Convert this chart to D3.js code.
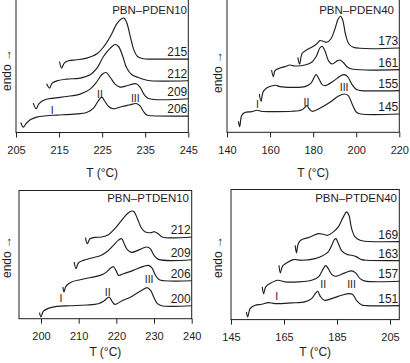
<!DOCTYPE html>
<html>
<head>
<meta charset="utf-8">
<script src="https://d3js.org/d3.v7.min.js"></script>
<style>
    body { margin: 0; background: #fff; }
    svg { display: block; font-family: "Liberation Sans", Arial, sans-serif; }
    .tick line { stroke: #222; }
</style>
</head>
<body>
<svg width="410" height="363"></svg>
<script>
    // DSC traces, [T (°C), heat flow (a.u., endo up)]
    // PBN-PDEN10
    const pden10_206 = [[206.1,10.0],[206.7,5.4],[207.3,8.7],[208.3,12.7],[209.8,15.4],[212.1,16.7],[214.5,17.4],[218.3,18.4],[221.4,20.0],[223.0,24.4],[224.1,31.7],[224.9,35.4],[225.5,32.0],[226.5,26.0],[227.6,23.7],[229.6,26.0],[231.5,27.7],[232.9,29.0],[233.8,26.7],[234.6,21.0],[235.4,17.4],[236.6,16.7],[245,16.4]];
    const pden10_209 = [[209.0,29.4],[209.7,23.7],[210.3,28.7],[211.7,32.7],[213.7,34.4],[216.8,36.0],[219.9,38.4],[222.2,43.4],[223.8,51.0],[224.9,57.7],[225.9,60.0],[226.9,55.0],[228.0,48.4],[229.2,45.4],[230.7,46.7],[232.1,48.4],[232.9,48.7],[233.8,45.4],[234.8,37.7],[235.8,34.0],[245,33.7]];
    const pden10_212 = [[212.1,48.7],[212.8,44.4],[213.4,49.4],[214.8,52.0],[216.8,53.4],[219.9,54.4],[222.2,57.7],[223.8,64.4],[225.3,76.0],[226.9,84.4],[228.0,88.0],[228.8,86.0],[229.8,76.0],[230.7,64.4],[231.9,57.7],[233.4,55.0],[235.0,52.7],[236.2,51.7],[245,51.7]];
    const pden10_215 = [[215.1,71.0],[215.6,64.4],[216.2,69.4],[217.2,71.7],[219.1,72.7],[221.4,74.4],[223.8,78.7],[225.3,85.4],[226.9,96.0],[228.4,108.7],[229.5,113.7],[230.1,114.4],[230.7,110.0],[231.5,96.7],[232.3,83.4],[233.2,76.0],[234.6,73.7],[236.6,73.4],[245,73.4]];
    // PBN-PDEN40
    const pden40_145 = [[145.3,11],[145.9,5.7],[146.8,16.7],[148.3,19.7],[151.4,20.7],[154.1,22],[155.8,21],[160.7,20.7],[170.0,21],[174.6,22.3],[176.2,25],[177.1,26.7],[178.0,24],[179.6,21],[183.1,24],[187.8,30],[191.6,36],[194.4,38.3],[196.3,36.7],[198.1,28.3],[200.1,20],[202.1,18.3],[220,18.3]];
    const pden40_155 = [[155.0,38.3],[155.8,31],[156.7,40],[158.4,44.3],[160.7,46.3],[162.6,47],[164.6,45.7],[170.0,45],[176.2,45.7],[178.9,49],[180.5,55],[181.4,57.7],[182.7,53.3],[184.2,47.7],[185.7,46.7],[189.3,51],[192.4,56],[194.4,57.7],[196.0,55.7],[198.1,47.7],[200.1,42.7],[202.4,41.7],[220,41.7]];
    const pden40_161 = [[160.7,62.3],[161.5,55.7],[162.3,61.7],[164.6,64.3],[166.9,65.7],[169.2,67.3],[171.5,66.3],[176.2,67.3],[179.3,70],[181.6,76.7],[183.1,84.3],[184.2,86],[185.4,81.7],[187.3,71],[188.8,68.3],[191.3,71.7],[192.4,72.3],[193.9,70],[196.0,65],[198.6,63],[220,62.7]];
    const pden40_173 = [[172.9,75],[173.7,68.3],[174.9,79],[176.9,82.3],[179.3,85],[181.6,88.3],[183.1,91.7],[184.7,91],[186.2,90],[188.2,93.3],[190.1,103.3],[191.6,113.3],[192.7,116],[193.8,111.7],[195.0,98.3],[196.6,88.3],[198.6,85],[220,84.3]];
    // PBN-PTDEN10
    const ptden10_200 = [[199.6,6],[200.0,1.7],[200.6,7.3],[201.9,10.3],[204.2,12.3],[207.7,13],[212.1,13.7],[215.2,15],[216.7,17.7],[217.6,20.7],[218.1,21.7],[218.8,17.7],[219.6,14.3],[221.4,17.7],[224.1,22.3],[226.7,28.3],[228.2,31],[229.1,28.3],[230.0,21],[230.9,15],[232.0,13],[240,13]];
    const ptden10_206 = [[205.8,31.7],[206.1,26.7],[206.6,32.3],[208.1,36.7],[210.4,39],[213.0,41],[215.7,43.3],[217.3,46.3],[218.5,50.7],[219.2,52],[219.9,48.3],[220.6,43.3],[221.9,45],[224.5,48.3],[227.2,52.3],[228.5,53.3],[229.4,51],[230.4,43.3],[231.4,39],[232.7,38],[240,38]];
    const ptden10_209 = [[208.8,56.7],[209.3,50],[209.9,55.7],[211.2,58.3],[213.5,60.7],[215.7,63],[217.4,66.7],[219.2,73.3],[220.5,78.3],[221.4,80],[222.0,75.7],[222.9,69],[224.0,66.3],[226.3,69.3],[228.1,71.7],[229.0,70],[230.0,63.3],[231.2,59.3],[240,59]];
    const ptden10_212 = [[211.8,81],[212.3,75],[213.0,80],[214.3,81.3],[216.1,81.7],[217.9,84],[219.6,90],[221.4,98.3],[222.9,105],[224.1,107.7],[224.7,107],[225.6,100],[226.6,91],[227.7,86.7],[229.1,86],[230.1,87],[231.1,85],[232.2,81.7],[240,81.7]];
    // PBN-PTDEN40
    const ptden40_151 = [[150.8,7.7],[151.3,2.7],[152.2,11],[154.1,14.3],[156.6,15.3],[159.1,17],[161.6,16],[167.9,16.7],[172.9,17.7],[175.4,21],[177.0,26.7],[177.7,28.3],[178.7,23.3],[180.2,19.3],[183.0,21],[186.8,24.3],[189.5,26],[190.8,25.3],[192.5,18.7],[194.3,14.7],[196.1,14],[208.5,14]];
    const ptden40_157 = [[156.8,32.7],[157.3,26],[158.1,32.7],[159.7,36],[162.6,39.3],[165.4,37.7],[170.4,37.7],[175.4,39.3],[178.0,42.7],[179.5,49.3],[180.7,54],[181.7,51],[183.0,45.3],[184.5,43.3],[188.0,46.7],[190.5,48.7],[192.0,46.7],[193.7,41],[195.3,38.7],[208.5,38.3]];
    const ptden40_163 = [[163.1,54.3],[163.6,46.7],[164.4,53.3],[166.0,56.7],[168.5,60],[171.7,59.3],[176.7,61],[179.2,63.3],[181.7,67.7],[183.0,74.3],[184.0,80],[184.6,81],[185.5,76],[186.8,68.7],[188.6,65.3],[190.5,64.3],[192.4,62.7],[194.3,60],[196.2,59.3],[208.5,59]];
    const ptden40_169 = [[169.2,74.3],[169.7,66.7],[170.4,76],[171.7,80],[174.2,82],[178.0,86],[179.8,85.3],[181.5,84.3],[183.6,87.7],[185.5,92.7],[187.4,102.7],[188.6,107.7],[189.5,104.3],[190.5,91],[191.8,82.7],[193.7,79.3],[195.6,78.3],[208.5,78]];

    // annealing temperatures (curve labels)
    const pden10_labels = ["206", "209", "212", "215"];
    const pden40_labels = ["145", "155", "161", "173"];
    const ptden10_labels = ["200", "206", "209", "212"];
    const ptden40_labels = ["151", "157", "163", "169"];

    // melting peak markers [text, T, height]
    const pden10_marks = [["I", 213.4, 22.7], ["II", 224.5, 39], ["III", 232.7, 34.5]];
    const pden40_marks = [["I", 154.1, 28], ["II", 176.9, 30], ["III", 194.4, 45]];
    const ptden10_marks = [["I", 205.3, 21], ["II", 217.7, 26.7], ["III", 228.7, 39.3]];
    const ptden40_marks = [["I", 162.2, 23.3], ["II", 179.8, 35.3], ["III", 190.5, 35.3]];

    // tick values
    const pden10_ticks = [205, 215, 225, 235, 245];
    const pden40_ticks = [140, 160, 180, 200, 220];
    const ptden10_ticks = [200, 210, 220, 230, 240];
    const ptden40_ticks = [145, 165, 185, 205];

    // panel layout
    const panels = [
        {title: "PBN\u2013PDEN10", left: 16, right: 188.3, top: -1, bottom: 132.5, x0: 205, x1: 245,
            ticks: pden10_ticks, curves: [pden10_206, pden10_209, pden10_212, pden10_215], labels: pden10_labels, marks: pden10_marks,
            endoX: 7, endoY: 70, titleX: 187, titleY: 14, axTitleY: 177},
        {title: "PBN\u2013PDEN40", left: 227, right: 399.3, top: -1, bottom: 132.3, x0: 140, x1: 220,
            ticks: pden40_ticks, curves: [pden40_145, pden40_155, pden40_161, pden40_173], labels: pden40_labels, marks: pden40_marks,
            endoX: 218, endoY: 72, titleX: 394, titleY: 14, axTitleY: 177},
        {title: "PBN\u2013PTDEN10", left: 19, right: 191.7, top: 190.5, bottom: 318.7, x0: 194.16, x1: 240,
            ticks: ptden10_ticks, curves: [ptden10_200, ptden10_206, ptden10_209, ptden10_212], labels: ptden10_labels, marks: ptden10_marks,
            endoX: 7, endoY: 257, titleX: 189, titleY: 202, axTitleY: 356},
        {title: "PBN\u2013PTDEN40", left: 231, right: 399.3, top: 189.5, bottom: 319.6, x0: 145, x1: 208.5,
            ticks: ptden40_ticks, curves: [ptden40_151, ptden40_157, ptden40_163, ptden40_169], labels: ptden40_labels, marks: ptden40_marks,
            endoX: 218, endoY: 257, titleX: 397, titleY: 202, axTitleY: 356}
    ];

    const ink = "#1e1e1e";
    const svg = d3.select("svg");

    panels.forEach(p => {
        const g = svg.append("g");

        const x = d3.scaleLinear().domain([p.x0, p.x1]).range([p.left, p.right]);
        // 1 unit of heat flow = 1 px
        const y = d3.scaleLinear().domain([0, p.bottom - p.top]).range([p.bottom, p.top]);

        // frame
        g.append("rect")
            .attr("x", p.left).attr("y", p.top)
            .attr("width", p.right - p.left).attr("height", p.bottom - p.top)
            .attr("fill", "none").attr("stroke", ink).attr("stroke-width", 1);

        // x axis
        const xAxis = d3.axisBottom(x)
            .tickValues(p.ticks)
            .tickSize(5)
            .tickSizeOuter(0)
            .tickPadding(9)
            .tickFormat(d3.format("d"));

        g.append("g")
            .attr("transform", "translate(0," + p.bottom + ")")
            .style("font-size", "11px")
            .style("font-family", "Liberation Sans, Arial, sans-serif")
            .call(xAxis)
            .call(a => a.select(".domain").remove())
            .call(a => a.selectAll("text").attr("fill", ink));

        // curves
        const line = d3.line()
            .x(d => x(d[0]))
            .y(d => y(d[1]))
            .curve(d3.curveCatmullRom.alpha(0.5));

        g.selectAll("path.trace")
            .data(p.curves).enter()
            .append("path")
            .attr("class", "trace")
            .attr("d", line)
            .attr("fill", "none")
            .attr("stroke", ink)
            .attr("stroke-width", 1.15);

        // curve labels at the right end
        g.selectAll("text.lab")
            .data(p.curves).enter()
            .append("text")
            .attr("class", "lab")
            .attr("x", p.right - 1)
            .attr("y", d => y(d[d.length - 1][1]) - 3)
            .attr("text-anchor", "end")
            .style("font-size", "12px")
            .attr("fill", ink)
            .text((d, i) => p.labels[i]);

        // peak markers
        g.selectAll("text.mark")
            .data(p.marks).enter()
            .append("text")
            .attr("class", "mark")
            .attr("x", d => x(d[1]))
            .attr("y", d => y(d[2]))
            .attr("text-anchor", "middle")
            .attr("dominant-baseline", "central")
            .style("font-size", "10.5px")
            .attr("fill", ink)
            .text(d => d[0]);

        // panel title
        g.append("text")
            .attr("x", p.titleX)
            .attr("y", p.titleY)
            .attr("text-anchor", "end")
            .style("font-size", "11.5px")
            .attr("fill", ink)
            .text(p.title);

        // axis title
        g.append("text")
            .attr("x", (p.left + p.right) / 2)
            .attr("y", p.axTitleY)
            .attr("text-anchor", "middle")
            .style("font-size", "12px")
            .attr("fill", ink)
            .text("T (\u00b0C)");

        // y label
        g.append("text")
            .attr("transform", "translate(" + p.endoX + "," + p.endoY + ") rotate(-90)")
            .attr("text-anchor", "middle")
            .attr("dominant-baseline", "central")
            .style("font-size", "12px")
            .attr("fill", ink)
            .text("endo \u2192");
    });
</script>
</body>
</html>
